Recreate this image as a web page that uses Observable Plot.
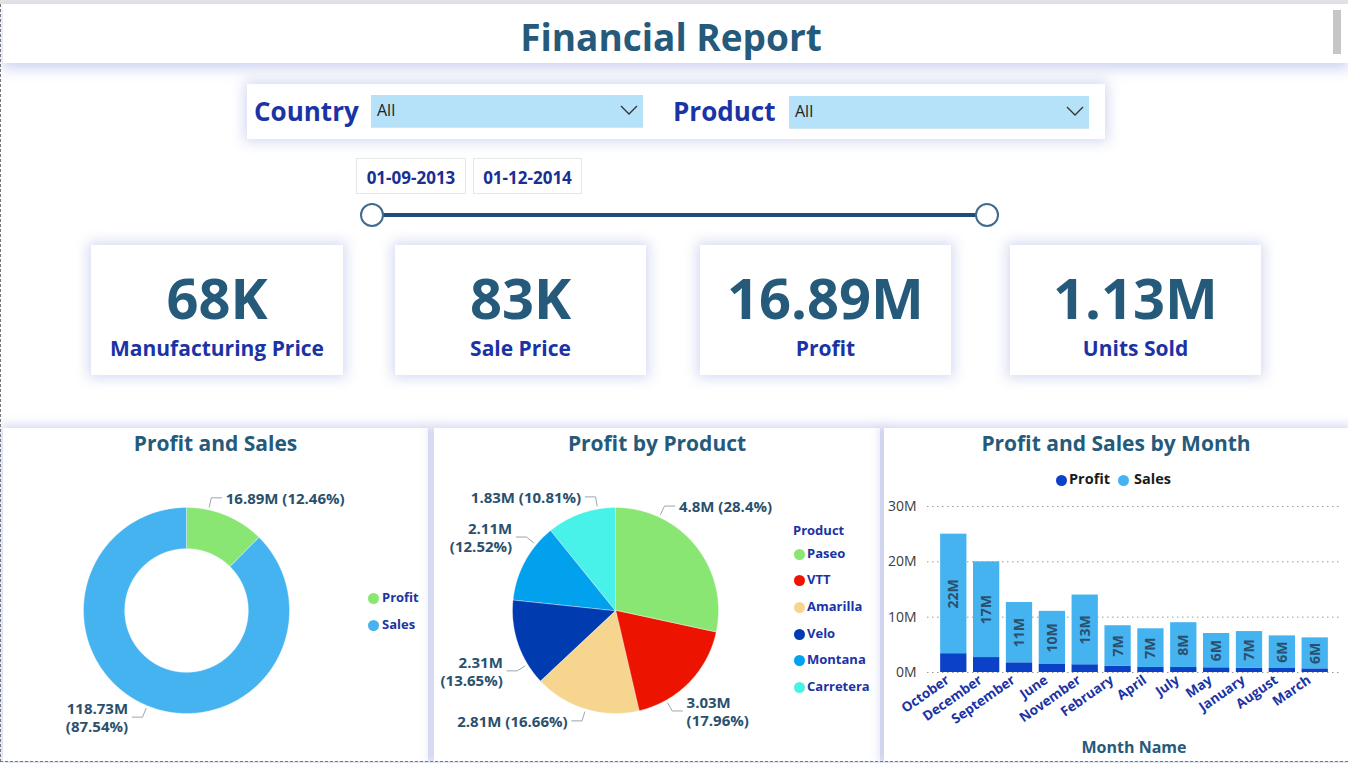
<!DOCTYPE html>
<html><head><meta charset="utf-8">
<script src="https://cdn.jsdelivr.net/npm/d3@7"></script>
<script src="https://cdn.jsdelivr.net/npm/@observablehq/plot@0.6"></script>
<style>
body{margin:0;background:#fff;font-family:"Open Sans",sans-serif;}
#page{position:relative;width:1348px;height:763px;overflow:hidden;background:#fff;}
.abs{position:absolute;white-space:nowrap;}
.box{position:absolute;background:#fff;box-shadow:0 0 12px 3px rgba(125,140,215,0.32);}
.t{position:absolute;white-space:nowrap;font-weight:700;}
.plot{position:absolute;}
</style></head><body><div id="page"></div>
<script>
// ---------------- data ----------------
const reportTitle = "Financial Report";
const filterLabels = ["Country", "Product"];
const filterValues = ["All", "All"];
const dateRange = ["01-09-2013", "01-12-2014"];
const kpiValues = ["68K", "83K", "16.89M", "1.13M"];
const kpiLabels = ["Manufacturing Price", "Sale Price", "Profit", "Units Sold"];

const psNames = ["Profit", "Sales"];
const psValues = [16.894, 118.726]; // millions
const psColors = ["#89e673", "#46b3f1"];

const products = ["Paseo", "VTT", "Amarilla", "Velo", "Montana", "Carretera"];
const productProfit = [4.797, 3.033, 2.814, 2.306, 2.114, 1.826]; // millions
const productColors = ["#89e673", "#ec1400", "#f6d58f", "#003bb0", "#01a1ee", "#49f2e8"];

const months = ["October","December","September","June","November","February","April","July","May","January","August","March"];
const monthProfit = [3.4, 2.7, 1.75, 1.45, 1.4, 1.15, 0.9, 0.9, 0.85, 0.8, 0.72, 0.66]; // millions
const monthSales  = [21.6, 17.3, 10.9, 9.6, 12.6, 7.3, 7.0, 8.1, 6.2, 6.6, 5.9, 5.6]; // millions
const seriesNames = ["Profit", "Sales"];
const seriesColors = ["#0a41c6", "#46b3f1"];
const yTicks = [0, 10, 20, 30];

// label layout (style only): line wrapping and leader-angle nudges (degrees)
const psLabelWrap = [false, true];
const psLabelShift = [-10, 0];
const productLabelWrap = [false, true, false, true, true, false];
const productLabelShift = [-26, 16, 0, -13, 11, 9.5];

// ---------------- layout helpers ----------------
const page = document.getElementById("page");
function el(tag, cls, css, html){const e=document.createElement(tag); if(cls) e.className=cls; Object.assign(e.style, css||{}); if(html!=null) e.innerHTML=html; page.appendChild(e); return e;}
const FONT='"Open Sans",sans-serif';
const TITLE_C="#255a7a", LABEL_C="#1a33a5";

// top strip
el("div","abs",{left:"0",top:"0",width:"1348px",height:"4px",background:"#e6e6e6"});
// title bar
el("div","box",{left:"3px",top:"4px",width:"1345px",height:"59px",boxShadow:"0 5px 12px 1px rgba(120,135,215,0.35)"});
el("div","t",{left:"0",top:"18px",width:"1342px",textAlign:"center",fontSize:"37px",lineHeight:"37px",color:TITLE_C},reportTitle);
el("div","abs",{left:"1333px",top:"10px",width:"8px",height:"44px",background:"#c6c6c6"});

// filter box
el("div","box",{left:"247px",top:"84px",width:"858px",height:"55px"});
const chevron='<svg width="18" height="11" style="position:absolute;right:5px;top:10px"><polyline points="1,1 9,9 17,1" fill="none" stroke="#333" stroke-width="1.3"/></svg>';
[[254,371,272,95],[673,789,300,96]].forEach(([lx,dx,dw,dy],i)=>{
  el("div","t",{left:lx+"px",top:"98px",fontSize:"26px",lineHeight:"26px",color:LABEL_C},filterLabels[i]);
  const d=el("div","abs",{left:dx+"px",top:dy+"px",width:dw+"px",height:"32px",background:"#b5e1f9",borderBottom:"1px solid #cfe6f3"});
  d.innerHTML='<span style="position:absolute;left:6px;top:7px;font-size:16px;line-height:16px;color:#222;font-family:'+FONT.replace(/"/g,"'")+'">'+filterValues[i]+'</span>'+chevron;
});

// date boxes and slider
[[356,110],[473,109]].forEach(([x,w],i)=>{
  el("div","abs",{left:x+"px",top:"158px",width:w+"px",height:"36px",border:"1px solid #e6e6e6",boxSizing:"border-box"});
  el("div","t",{left:x+"px",top:"169px",width:w+"px",textAlign:"center",fontSize:"17px",lineHeight:"17px",color:"#1a2f93"},dateRange[i]);
});
el("div","abs",{left:"372px",top:"213px",width:"615px",height:"4px",background:"#1b4e78"});
[372,987].forEach(x=>el("div","abs",{left:(x-12)+"px",top:"203px",width:"20px",height:"20px",borderRadius:"50%",border:"2px solid #3e6b90",background:"#fff"}));

// KPI cards
[[91,252],[395,251],[700,251],[1010,251]].forEach(([x,w],i)=>{
  el("div","box",{left:x+"px",top:"245px",width:w+"px",height:"130px"});
  el("div","t",{left:x+"px",top:"269px",width:w+"px",textAlign:"center",fontSize:"56px",lineHeight:"56px",color:TITLE_C},kpiValues[i]);
  el("div","t",{left:x+"px",top:"338px",width:w+"px",textAlign:"center",fontSize:"21px",lineHeight:"21px",color:LABEL_C},kpiLabels[i]);
});

// bottom panels
const panels=[[3,425,"Profit and Sales"],[434,446,"Profit by Product"],[884,464,"Profit and Sales by Month"]];
panels.forEach(([x,w,title])=>{
  el("div","box",{left:x+"px",top:"428px",width:w+"px",height:"333px",boxShadow:"0 0 10px 3px rgba(125,140,215,0.35)"});
  el("div","t",{left:x+"px",top:"433px",width:w+"px",textAlign:"center",fontSize:"21px",lineHeight:"21px",color:TITLE_C},title);
});

// ---------------- pie helpers ----------------
const TAU=Math.PI*2;
function slicePolys(names, values, rIn){
  const arcs=d3.pie().sort(null).startAngle(0).endAngle(TAU)(values);
  const pts=[];
  arcs.forEach((a,i)=>{
    const n=Math.max(2,Math.ceil((a.endAngle-a.startAngle)/(TAU/720)));
    for(let k=0;k<=n;k++){const t=a.startAngle+(a.endAngle-a.startAngle)*k/n; pts.push({key:names[i],x:Math.sin(t),y:Math.cos(t)});}
    if(rIn>0){for(let k=n;k>=0;k--){const t=a.startAngle+(a.endAngle-a.startAngle)*k/n; pts.push({key:names[i],x:rIn*Math.sin(t),y:rIn*Math.cos(t)});}}
    else pts.push({key:names[i],x:0,y:0});
  });
  return {arcs,pts};
}
const fmtNum=v=>String(+v.toFixed(2));
function leaderData(names, values, arcs, wrap, shift, rStart, rElbow, hLen){
  const total=d3.sum(values);
  const lines=[], labels=[];
  arcs.forEach((a,i)=>{
    const m=(a.startAngle+a.endAngle)/2 + shift[i]*Math.PI/180, s=Math.sin(m), c=Math.cos(m), dir=s>=0?1:-1;
    const p0={x:rStart*s,y:rStart*c}, p1={x:rElbow*s,y:rElbow*c}, p2={x:p1.x+dir*hLen,y:p1.y};
    [p0,p1,p2].forEach(p=>lines.push({key:names[i],...p}));
    const txt=fmtNum(values[i])+"M"+(wrap[i]?"\n":" ")+"("+fmtNum(values[i]/total*100)+"%)";
    labels.push({key:names[i],x:p2.x+dir*0.04,y:p2.y,text:txt,side:dir});
  });
  return {lines,labels};
}
function pieChart({left,top,width,height,cx,cy,r,names,values,colors,rIn,wrap,shift}){
  const {arcs,pts}=slicePolys(names,values,rIn);
  const {lines,labels}=leaderData(names,values,arcs,wrap,shift,1.03,1.12,0.1);
  const txt={fontSize:15,fontWeight:"bold",fill:"#2a506e",lineHeight:1.2,lineAnchor:"middle"};
  const p=Plot.plot({
    width,height,margin:0,
    style:{fontFamily:FONT,background:"transparent",overflow:"visible"},
    x:{domain:[-cx/r,(width-cx)/r],axis:null},
    y:{domain:[-(height-cy)/r,cy/r],axis:null},
    color:{domain:names,range:colors},
    marks:[
      Plot.line(pts,{x:"x",y:"y",z:"key",fill:"key",stroke:"#fff",strokeWidth:0.6,strokeOpacity:0.6,curve:"linear-closed"}),
      Plot.line(lines,{x:"x",y:"y",z:"key",stroke:"#9aa6b2",strokeWidth:1}),
      Plot.text(labels.filter(d=>d.side>0),{x:"x",y:"y",text:"text",textAnchor:"start",...txt}),
      Plot.text(labels.filter(d=>d.side<0),{x:"x",y:"y",text:"text",textAnchor:"end",...txt})
    ]
  });
  p.classList.add("plot"); p.style.left=left+"px"; p.style.top=top+"px";
  page.appendChild(p);
}
function legend(items, colors, x, y0, dy, dotX, opts){
  items.forEach((name,i)=>{
    const y=y0+i*dy;
    el("div","abs",{left:(dotX-5.5)+"px",top:(y-5.5)+"px",width:"11px",height:"11px",borderRadius:"50%",background:colors[i]});
    el("div","t",{left:x+"px",top:(y-0.531*opts.fs - 0.5)+"px",fontSize:opts.fs+"px",lineHeight:opts.fs+"px",color:opts.color},name);
  });
}

// Donut
pieChart({left:3,top:470,width:425,height:285,cx:183,cy:140,r:103,names:psNames,values:psValues,colors:psColors,rIn:0.6,wrap:psLabelWrap,shift:psLabelShift});
legend(psNames,psColors,382,598,27,373,{fs:13,color:LABEL_C});

// Pie
pieChart({left:434,top:470,width:446,height:285,cx:181,cy:140,r:103,names:products,values:productProfit,colors:productColors,rIn:0,wrap:productLabelWrap,shift:productLabelShift});
el("div","t",{left:"793px",top:(531-7)+"px",fontSize:"13px",lineHeight:"13px",color:LABEL_C},"Product");
legend(products,productColors,807,554,26.7,799,{fs:13,color:LABEL_C});

// ---------------- bar chart ----------------
const table=months.map((m,i)=>({month:m,profit:monthProfit[i]*1e6,sales:monthSales[i]*1e6}));
const long=table.flatMap(d=>[{month:d.month,series:seriesNames[0],value:d.profit},{month:d.month,series:seriesNames[1],value:d.sales}]);
const bar=Plot.plot({
  width:464,height:270,marginTop:16,marginBottom:88,marginLeft:43,marginRight:7,
  style:{fontFamily:FONT,background:"transparent",overflow:"visible"},
  x:{domain:months,paddingInner:0.2,paddingOuter:0.4,round:false},
  y:{domain:[0,30e6]},
  color:{domain:seriesNames,range:seriesColors},
  marks:[
    Plot.gridY(yTicks.map(v=>v*1e6),{stroke:"#9a9a9a",strokeOpacity:1,strokeDasharray:"1.5,3.5"}),
    Plot.barY(long,{x:"month",y:"value",fill:"series"}),
    Plot.text(table,{x:"month",y:d=>d.profit+d.sales/2,text:d=>Math.round(d.sales/1e6)+"M",rotate:-90,fontSize:14,fontWeight:"bold",fill:"#2a506e"}),
    Plot.axisY(yTicks.map(v=>v*1e6),{tickSize:0,tickPadding:11,fontSize:14,fill:"#3c3c3c",tickFormat:d=>d/1e6+"M",label:null}),
    Plot.axisX({tickSize:0,tickPadding:4,dx:-6,dy:2,tickRotate:-35,fontSize:13.5,fontWeight:"bold",color:LABEL_C,label:null})
  ]
});
bar.classList.add("plot"); bar.style.left="884px"; bar.style.top="490px"; page.appendChild(bar);
// bar legend
[[1061,1069],[1123,1134]].forEach(([dx,tx],i)=>{
  el("div","abs",{left:(dx-5.5)+"px",top:"474.5px",width:"11px",height:"11px",borderRadius:"50%",background:seriesColors[i]});
  el("div","t",{left:tx+"px",top:(480-7.7)+"px",fontSize:"14.5px",lineHeight:"14.5px",color:"#1a1a1a"},seriesNames[i]);
});
el("div","t",{left:"884px",top:(747-8.5)+"px",width:"500px",textAlign:"center",fontSize:"16px",lineHeight:"16px",color:TITLE_C},"Month Name");

// dashed frame
el("div","abs",{left:"0",top:"4px",width:"1347px",height:"757px",borderLeft:"1px dashed #777",borderBottom:"1px dashed #777",pointerEvents:"none"});
</script></body></html>
